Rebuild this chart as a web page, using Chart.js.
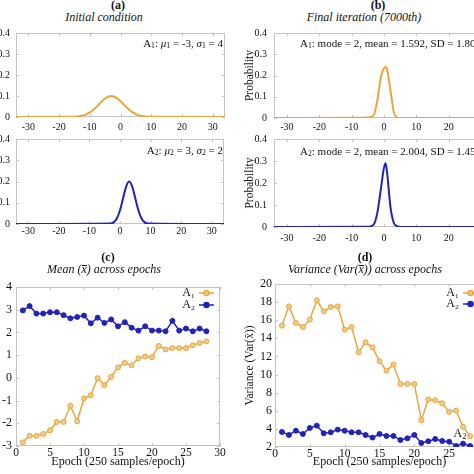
<!DOCTYPE html>
<html><head><meta charset="utf-8">
<script src="https://cdn.jsdelivr.net/npm/chart.js@4"></script>
<style>
html,body{margin:0;padding:0;width:474px;height:474px;overflow:hidden;background:#fff;position:relative;font-family:"Liberation Serif",serif;color:#111;}
canvas{position:absolute;}
.t{position:absolute;white-space:nowrap;line-height:1;}
.c{transform:translate(-50%,-50%);}
.r{transform:translate(-100%,-50%);}
.l{transform:translate(0,-50%);}
.b{font-weight:bold;font-size:12px;}
.i{font-style:italic;font-size:12px;}
.n{font-size:11px;}
.ov{position:relative;}
.ov::before{content:"";position:absolute;left:1px;right:0;top:3px;border-top:1px solid #111;}
sub{font-size:70%;vertical-align:-0.25em;line-height:0;}
</style></head><body>
<canvas id="a1" width="271" height="115" style="left:-34px;top:25px"></canvas>
<canvas id="a2" width="271" height="115" style="left:-34px;top:131px"></canvas>
<canvas id="b1" width="270" height="115" style="left:237px;top:25px"></canvas>
<canvas id="b2" width="270" height="119" style="left:237px;top:131px"></canvas>
<canvas id="c1" width="267" height="194" style="left:-30px;top:275px"></canvas>
<canvas id="d1" width="260" height="194" style="left:237px;top:275px"></canvas>

<div class="t c b" style="left:118px;top:5px">(a)</div>
<div class="t c i" style="left:104px;top:17px">Initial condition</div>
<div class="t c b" style="left:378px;top:5px">(b)</div>
<div class="t c i" style="left:364px;top:17px">Final iteration (7000th)</div>
<div class="t c b" style="left:108px;top:257px">(c)</div>
<div class="t c i" style="left:104px;top:269px">Mean (<span class="ov">x</span>) across epochs</div>
<div class="t c b" style="left:365px;top:257px">(d)</div>
<div class="t c i" style="left:365px;top:269px">Variance (Var(<span class="ov">x</span>)) across epochs</div>
<div class="t r n" style="left:223px;top:43px">A<sub>1</sub>: <i>μ</i><sub>1</sub> = -3, <i>σ</i><sub>1</sub> = 4</div>
<div class="t r n" style="left:223px;top:150px">A<sub>2</sub>: <i>μ</i><sub>2</sub> = 3, <i>σ</i><sub>2</sub> = 2</div>
<div class="t l n" style="left:300px;top:43px">A<sub>1</sub>: mode = 2, mean = 1.592, SD = 1.80</div>
<div class="t l n" style="left:300px;top:151px">A<sub>2</sub>: mode = 2, mean = 2.004, SD = 1.45</div>
<div class="t c n" style="left:460px;top:433px;font-size:12px">A<sub>2</sub></div>

<script>
// ---- data ----
const distTicksX = [-30, -20, -10, 0, 10, 20, 30];
const probTicks = [0, 0.1, 0.2, 0.3, 0.4];
const epochTicks = [0, 5, 10, 15, 20, 25, 30];
const meanTicks = [-3, -2, -1, 0, 1, 2, 3, 4];
const varTicks = [2, 4, 6, 8, 10, 12, 14, 16, 18, 20];

const initX1 = [-34,-15,-14,-13,-12,-11,-10,-9,-8,-7,-6,-5,-4,-3,-2,-1,0,1,2,3,4,5,6,7,8,9,34];
const initP1 = [0,0.0011,0.0023,0.0044,0.0079,0.0135,0.0216,0.0324,0.0457,0.0605,0.0753,0.0880,0.0966,0.0997,0.0966,0.0880,0.0753,0.0605,0.0457,0.0324,0.0216,0.0135,0.0079,0.0044,0.0023,0.0011,0];
const initX2 = [-34,-3,-2,-1,0,1,2,3,4,5,6,7,8,9,34];
const initP2 = [0,0.0022,0.0088,0.0270,0.0648,0.1210,0.1760,0.1995,0.1760,0.1210,0.0648,0.0270,0.0088,0.0022,0];

const finalX1 = [-34,-10,-5,-4,-3,-2,-1,0,0.5,1,2,3,4,5,34];
const finalP1 = [0,0.001,0.002,0.005,0.02,0.09,0.19,0.235,0.24,0.225,0.13,0.03,0.003,0,0];
const finalX2 = [-34,-5,-4,-3,-2,-1,0,0.5,1,2,3,4,5,34];
const finalP2 = [0,0.001,0.004,0.015,0.07,0.17,0.27,0.29,0.24,0.09,0.02,0.004,0,0];

const epochs = [1,2,3,4,5,6,7,8,9,10,11,12,13,14,15,16,17,18,19,20,21,22,23,24,25,26,27,28];
const meanA1 = [-2.84,-2.55,-2.55,-2.47,-2.31,-1.94,-1.94,-1.23,-1.91,-0.9,-0.77,-0.01,-0.32,0.05,0.46,0.66,0.55,0.86,0.94,0.91,1.41,1.25,1.31,1.31,1.31,1.44,1.54,1.61];
const meanA2 = [2.97,3.16,2.83,2.83,2.89,2.89,2.76,2.62,2.68,2.74,2.40,2.65,2.42,2.57,2.27,2.45,2.21,2.08,2.27,2.08,2.08,2.05,2.51,2.08,2.17,2.05,2.17,2.05];
const varA1 = [15.4,17.53,15.7,15.25,16.06,18.2,16.98,17.46,17.53,14.96,15.25,12.46,13.56,13.0,11.46,10.43,11.1,8.96,8.96,8.96,4.95,7.24,7.16,6.83,5.88,6.02,4.22,3.2];
const varA2 = [3.66,3.33,3.8,3.44,4.1,4.36,3.52,3.62,3.92,3.8,3.62,3.62,3.33,3.04,3.44,3.22,3.22,2.77,2.96,3.33,2.44,2.63,2.88,2.66,2.59,2.11,2.37,2.11];

const seriesLabels = ['A\u2081', 'A\u2082'];

// ---- styling ----
const F = "'Liberation Serif', serif";
const ORANGE = '#E6A73E';
const ORANGE_FILL = '#F3CB84';
const BLUE = '#2323B8';
const FRAME = '#c4c4c4';

const pairs = (xs, ys) => xs.map((x, i) => ({x, y: ys[i]}));

const framePlugin = {
  id: 'frame',
  beforeDatasetsDraw(chart) {
    const {ctx, chartArea: a, scales} = chart;
    ctx.save();
    ctx.strokeStyle = FRAME; ctx.lineWidth = 1;
    ctx.strokeRect(Math.round(a.left) + 0.5, Math.round(a.top) + 0.5, Math.round(a.width) - 1, Math.round(a.height) - 1);
    ctx.beginPath();
    scales.x.ticks.forEach(t => {
      const p = Math.round(scales.x.getPixelForValue(t.value)) + 0.5;
      ctx.moveTo(p, a.bottom); ctx.lineTo(p, a.bottom - 3);
      ctx.moveTo(p, a.top); ctx.lineTo(p, a.top + 3);
    });
    scales.y.ticks.forEach(t => {
      const p = Math.round(scales.y.getPixelForValue(t.value)) + 0.5;
      ctx.moveTo(a.left, p); ctx.lineTo(a.left + 3, p);
      ctx.moveTo(a.right, p); ctx.lineTo(a.right - 3, p);
    });
    ctx.stroke();
    ctx.restore();
  }
};

const miniLegend = {
  id: 'miniLegend',
  afterDatasetsDraw(chart, args, opts) {
    const {ctx, chartArea: a} = chart;
    chart.data.datasets.forEach((ds, i) => {
      const y = a.top + opts.top + i * opts.gap;
      ctx.save();
      ctx.font = '12px ' + F; ctx.fillStyle = '#111';
      ctx.textAlign = 'right'; ctx.textBaseline = 'middle';
      ctx.fillText(ds.label, a.right - opts.textGap, y);
      ctx.strokeStyle = ds.borderColor; ctx.lineWidth = 1.5;
      ctx.beginPath(); ctx.moveTo(a.right - opts.textGap + 4, y); ctx.lineTo(a.right - opts.textGap + 19, y); ctx.stroke();
      ctx.beginPath(); ctx.arc(a.right - opts.textGap + 11.5, y, 2.5, 0, Math.PI * 2);
      ctx.fillStyle = ds.pointBackgroundColor; ctx.fill(); ctx.stroke();
      ctx.restore();
    });
  }
};

function xScale(min, max, tickArr, size, pad, height, title) {
  return {
    type: 'linear', min, max,
    afterBuildTicks: s => { s.ticks = tickArr.map(v => ({value: v})); },
    afterFit: s => { s.height = height; s.paddingLeft = 0; s.paddingRight = 0; s.paddingTop = 0; s.paddingBottom = 0; },
    grid: {display: false, drawTicks: false}, border: {display: false},
    ticks: {font: {family: F, size}, color: '#111', padding: pad, maxRotation: 0, autoSkip: false, callback: v => String(v)},
    title: title ? {display: true, text: title, font: {family: F, size: 12}, color: '#111', padding: 0} : {display: false}
  };
}
function yScale(min, max, tickArr, size, pad, width, title) {
  return {
    type: 'linear', min, max,
    afterBuildTicks: s => { s.ticks = tickArr.map(v => ({value: v})); },
    afterFit: s => { s.width = width; s.paddingLeft = 0; s.paddingRight = 0; s.paddingTop = 0; s.paddingBottom = 0; },
    grid: {display: false, drawTicks: false}, border: {display: false},
    ticks: {font: {family: F, size}, color: '#111', padding: pad, autoSkip: false, callback: v => String(v)},
    title: title ? {display: true, text: title, font: {family: F, size: 11.5}, color: '#111', padding: 0} : {display: false}
  };
}

function distChart(id, xs, ys, color, padding, yW, xH, xPad, yPad, yTitle) {
  new Chart(document.getElementById(id), {
    type: 'line',
    data: {datasets: [{data: pairs(xs, ys), borderColor: color, borderWidth: 2, pointRadius: 0, cubicInterpolationMode: 'monotone', fill: false}]},
    options: {
      responsive: false, animation: false, events: [],
      layout: {padding},
      plugins: {legend: {display: false}, tooltip: {enabled: false}},
      scales: {
        x: xScale(-34, 34, distTicksX, 10, xPad, xH, null),
        y: yScale(0, 0.4, probTicks, 10, yPad, yW, yTitle)
      }
    },
    plugins: [framePlugin]
  });
}

distChart('a1', initX1, initP1, ORANGE, {left: 0, top: 8, right: 12, bottom: 0}, 50, 23, 4, 6, null);
distChart('a2', initX2, initP2, BLUE, {left: 0, top: 8, right: 13, bottom: 0}, 50, 22, 1, 6, null);
distChart('b1', finalX1, finalP1, ORANGE, {left: 6, top: 8, right: 13, bottom: 0}, 31, 22, 3, 7, 'Probability');
distChart('b2', finalX2, finalP2, BLUE, {left: 6, top: 8, right: 13, bottom: 0}, 31, 23, 5, 7, 'Probability');

function epochChart(id, a1, a2, yMin, yMax, yTicks, padding, yW, xH, yPad, yTitle, legTop, legGap) {
  new Chart(document.getElementById(id), {
    type: 'line',
    data: {datasets: [
      {label: seriesLabels[0], data: pairs(epochs, a1), borderColor: ORANGE, borderWidth: 1.5, pointRadius: 2.5, pointBorderWidth: 1, pointBackgroundColor: ORANGE_FILL, pointBorderColor: ORANGE, tension: 0},
      {label: seriesLabels[1], data: pairs(epochs, a2), borderColor: BLUE, borderWidth: 1.5, pointRadius: 2.5, pointBorderWidth: 1, pointBackgroundColor: BLUE, pointBorderColor: BLUE, tension: 0}
    ]},
    options: {
      responsive: false, animation: false, events: [],
      layout: {padding},
      plugins: {legend: {display: false}, tooltip: {enabled: false}, miniLegend: {top: legTop, gap: legGap, textGap: 25}},
      scales: {
        x: xScale(0, 30, epochTicks, 11.5, 0, xH, 'Epoch (250 samples/epoch)'),
        y: yScale(yMin, yMax, yTicks, 12, yPad, yW, yTitle)
      }
    },
    plugins: [framePlugin, miniLegend]
  });
}

epochChart('c1', meanA1, meanA2, -3, 4, meanTicks, {left: 0, top: 12, right: 17, bottom: 0}, 46, 23, 4, null, 6, 12);
epochChart('d1', varA1, varA2, 2, 20, varTicks, {left: 6, top: 9, right: 13, bottom: 0}, 32, 22, 3, 'Variance (Var(x\u0304))', 9, 11);
</script>
</body></html>
